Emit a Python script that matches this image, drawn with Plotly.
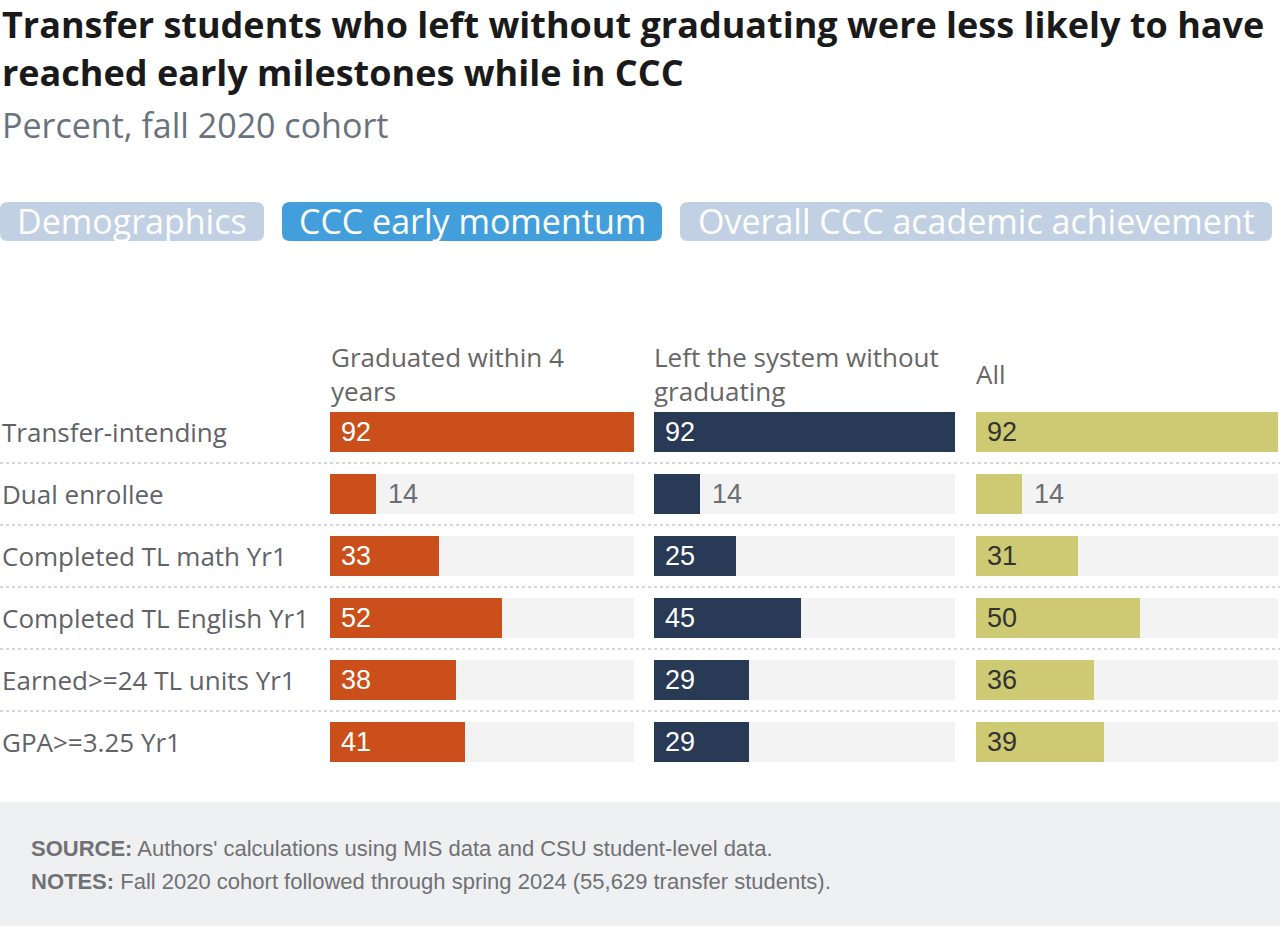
import plotly.graph_objects as go

W, H = 1280, 926

title_lines = ["Transfer students who left without graduating were less likely to have",
               "reached early milestones while in CCC"]
subtitle = "Percent, fall 2020 cohort"
tabs = ["Demographics", "CCC early momentum", "Overall CCC academic achievement"]
active_tab = 1

categories = ["Transfer-intending", "Dual enrollee", "Completed TL math Yr1",
              "Completed TL English Yr1", "Earned>=24 TL units Yr1", "GPA>=3.25 Yr1"]
series_names = ["Graduated within 4<br>years",
                "Left the system without<br>graduating",
                "All"]
graduated = [92, 14, 33, 52, 38, 41]
left_system = [92, 14, 25, 45, 29, 29]
all_students = [92, 14, 31, 50, 36, 39]
series_values = [graduated, left_system, all_students]
colors = ["#cb4f1b", "#283a55", "#cdca73"]
label_colors = ["#ffffff", "#ffffff", "#333333"]

source = "<b>SOURCE:</b> Authors' calculations using MIS data and CSU student-level data."
notes = "<b>NOTES:</b> Fall 2020 cohort followed through spring 2024 (55,629 transfer students)."

vmax = max(max(s) for s in series_values)

def px(x):
    return x / W

def py(y):
    return 1 - y / H

domains = [(px(330), px(634)), (px(654), px(955)), (px(976), px(1278))]
ydom = (py(773), py(401))

fig = go.Figure()
ypos = list(range(len(categories)))
axis_names = ["x", "x2", "x3"]
layout_axes = {}
for i, vals in enumerate(series_values):
    ax = axis_names[i]
    fig.add_trace(go.Bar(x=[vmax] * len(vals), y=ypos, orientation="h",
                         marker=dict(color="#f3f3f3", line=dict(width=0)),
                         width=40 / 62, xaxis=ax, yaxis="y", hoverinfo="skip",
                         showlegend=False))
    fig.add_trace(go.Bar(x=vals, y=ypos, orientation="h",
                         marker=dict(color=colors[i], line=dict(width=0)),
                         width=40 / 62, xaxis=ax, yaxis="y",
                         name=series_names[i].replace("<br>", " "),
                         showlegend=False))
    key = "xaxis" if i == 0 else f"xaxis{i+1}"
    layout_axes[key] = dict(domain=list(domains[i]), range=[0, vmax], showgrid=False,
                            zeroline=False, showticklabels=False, ticks="",
                            anchor="y", fixedrange=True)

annotations = []
shapes = []

# footer background
shapes.append(dict(type="rect", xref="paper", yref="paper", x0=0, x1=1,
                   y0=py(926), y1=py(802), fillcolor="#eef0f2", line=dict(width=0), layer="below"))

# separators
for k in range(len(categories) - 1):
    shapes.append(dict(type="line", xref="paper", yref="y", x0=0, x1=1,
                       y0=k + 0.5, y1=k + 0.5,
                       line=dict(color="#d6d6d6", width=2, dash="dot")))

# tabs
tab_boxes = [(0, 264), (282, 662), (680, 1272)]
def rounded(x0, x1, y0, y1, r):
    X0, X1 = px(x0), px(x1)
    rx, ry = r / W, r / H
    Y0, Y1 = py(y0), py(y1)
    return (f"M {X0+rx},{Y0} L {X1-rx},{Y0} Q {X1},{Y0} {X1},{Y0-ry} "
            f"L {X1},{Y1+ry} Q {X1},{Y1} {X1-rx},{Y1} L {X0+rx},{Y1} "
            f"Q {X0},{Y1} {X0},{Y1+ry} L {X0},{Y0-ry} Q {X0},{Y0} {X0+rx},{Y0} Z")
for i, (a, b) in enumerate(tab_boxes):
    col = "#429fdc" if i == active_tab else "#c2d0e3"
    shapes.append(dict(type="path", xref="paper", yref="paper",
                       path=rounded(a, b, 202, 241, 8), fillcolor=col, line=dict(width=0)))
    annotations.append(dict(xref="paper", yref="paper", x=px((a + b) / 2), y=py(221),
                            text=tabs[i], showarrow=False, xanchor="center", yanchor="middle",
                            font=dict(family="Open Sans", size=34, color="#ffffff")))

# title & subtitle
for line, yc in zip(title_lines, [24, 73]):
    annotations.append(dict(xref="paper", yref="paper", x=0, y=py(yc), text=f"<b>{line}</b>",
                            showarrow=False, xanchor="left", yanchor="middle",
                            font=dict(family="Open Sans", size=36, color="#1a1a1a")))
annotations.append(dict(xref="paper", yref="paper", x=0, y=py(125), text=subtitle,
                        showarrow=False, xanchor="left", yanchor="middle",
                        font=dict(family="Open Sans", size=34, color="#69727d")))

# column headers
header_x = [331, 654, 976]
for i, name in enumerate(series_names):
    annotations.append(dict(xref="paper", yref="paper", x=px(header_x[i] - 2), y=py(374),
                            text=name, showarrow=False, xanchor="left", yanchor="middle",
                            align="left",
                            font=dict(family="Open Sans", size=26, color="#666666")))

# row labels
for k, c in enumerate(categories):
    annotations.append(dict(xref="paper", yref="y", x=px(0), y=k, text=c, showarrow=False,
                            xanchor="left", yanchor="middle",
                            font=dict(family="Open Sans", size=26, color="#5f6368")))

# value labels
for i, vals in enumerate(series_values):
    ax = axis_names[i]
    for k, v in enumerate(vals):
        if v < 20:
            annotations.append(dict(xref=ax, yref="y", x=v, y=k, text=str(v), showarrow=False,
                                    xanchor="left", yanchor="middle", xshift=10,
                                    font=dict(family="Liberation Sans", size=27, color="#6b6e73")))
        else:
            annotations.append(dict(xref=ax, yref="y", x=0, y=k, text=str(v), showarrow=False,
                                    xanchor="left", yanchor="middle", xshift=9,
                                    font=dict(family="Liberation Sans", size=27, color=label_colors[i])))

# footer text
for t, yc in zip([source, notes], [848, 881]):
    annotations.append(dict(xref="paper", yref="paper", x=px(29), y=py(yc), text=t,
                            showarrow=False, xanchor="left", yanchor="middle",
                            font=dict(family="Liberation Sans", size=22, color="#707075")))

fig.update_layout(
    width=W, height=H, margin=dict(l=0, r=0, t=0, b=0),
    paper_bgcolor="#ffffff", plot_bgcolor="rgba(0,0,0,0)",
    barmode="overlay", bargap=0,
    yaxis=dict(domain=list(ydom), range=[len(categories) - 0.5, -0.5], showgrid=False,
               zeroline=False, showticklabels=False, ticks="", fixedrange=True),
    annotations=annotations, shapes=shapes, showlegend=False,
    **layout_axes,
)

fig.write_html("out.html")
